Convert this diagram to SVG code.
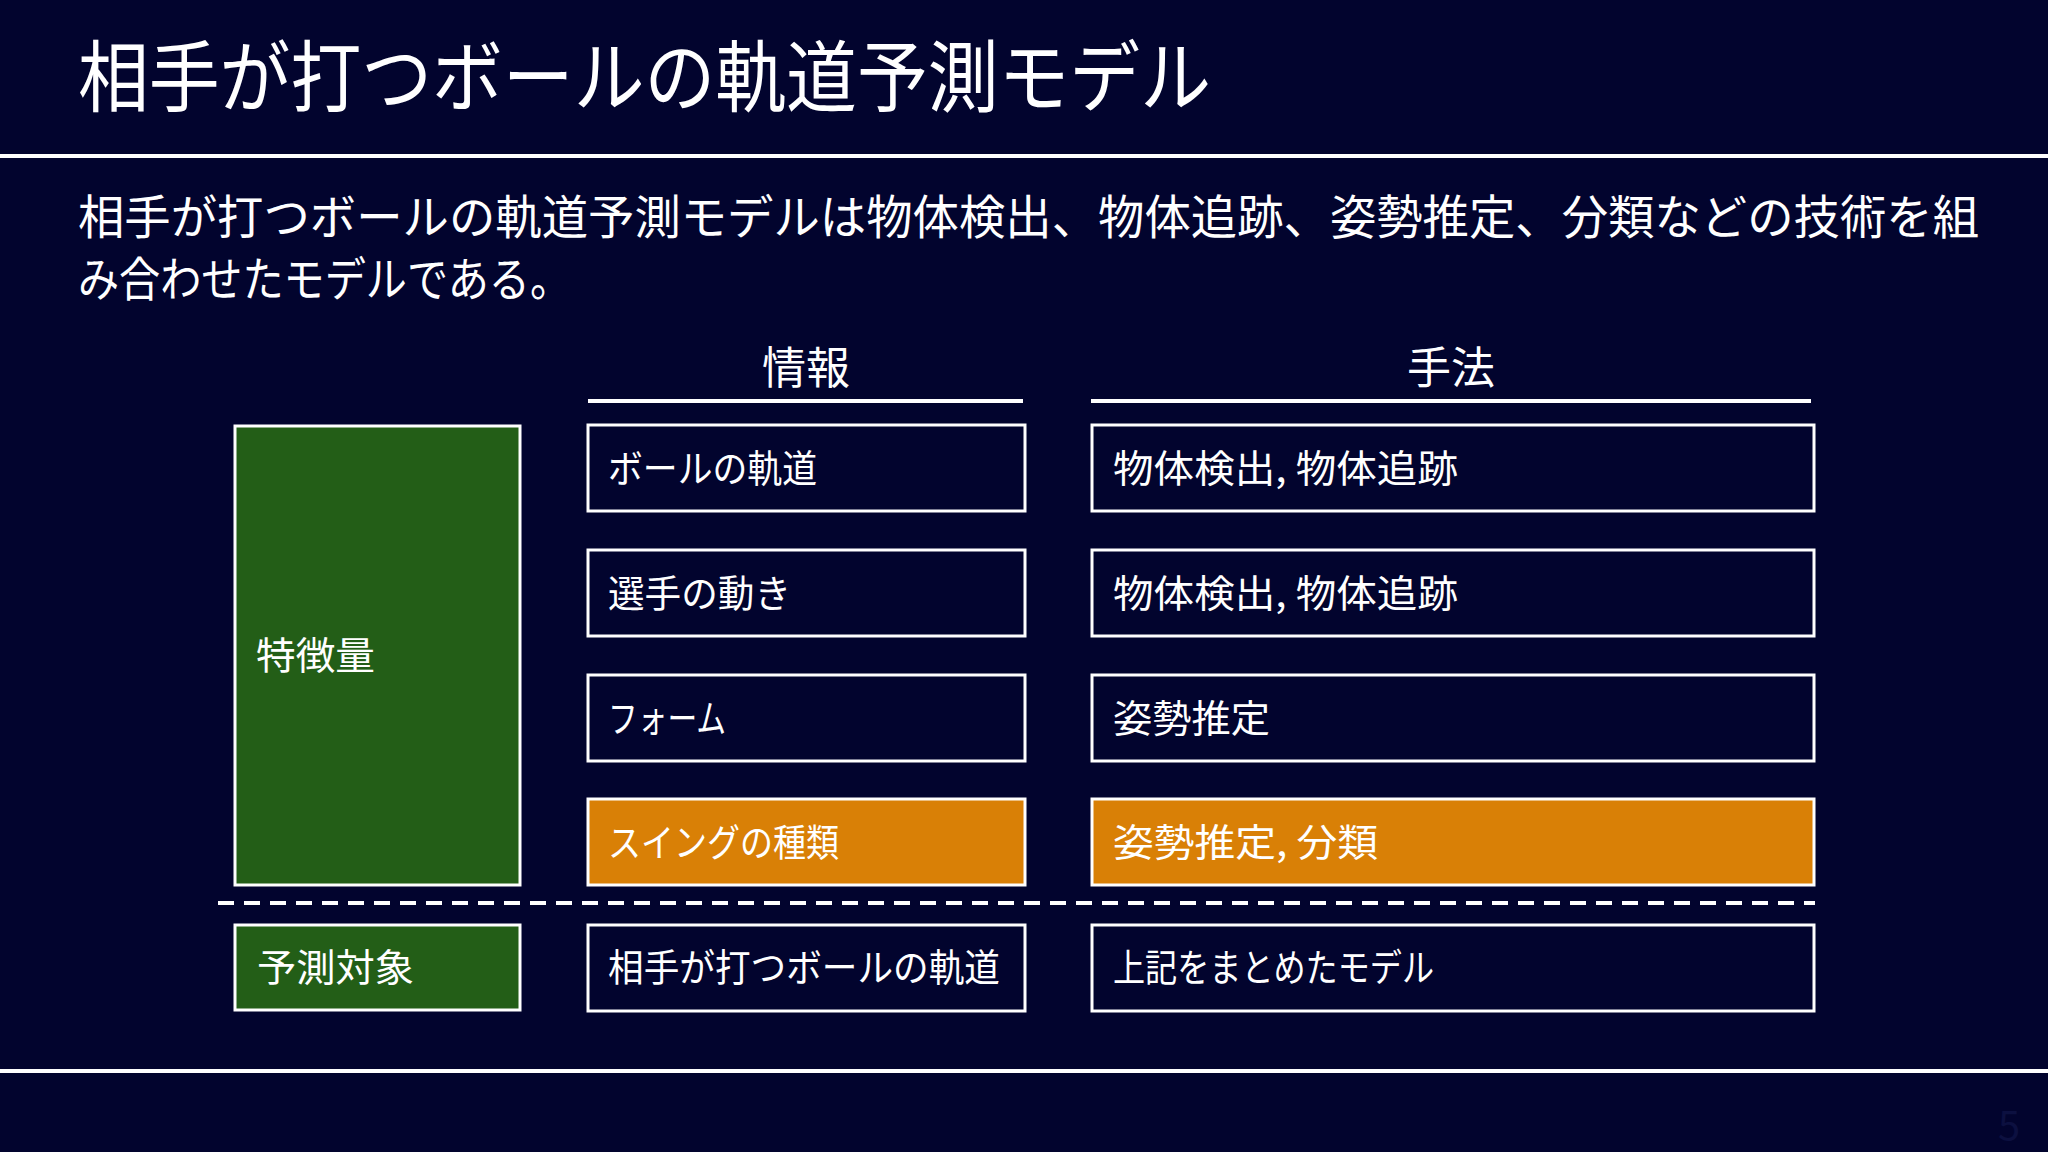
<svg xmlns="http://www.w3.org/2000/svg" width="2048" height="1152" viewBox="0 0 2048 1152">
<style>
text{font-family:"Noto Sans CJK JP","Noto Sans",sans-serif;fill:#fff}
.b{fill:none;stroke:#fff;stroke-width:3}
.o{fill:#D98006;stroke:#fff;stroke-width:3}
.g{fill:#235E17;stroke:#fff;stroke-width:3}
.t{font-size:38px}
.h{font-size:44px}
</style>
<rect width="2048" height="1152" fill="#02042E"/>
<text x="78" y="106" font-size="78" textLength="1133" lengthAdjust="spacingAndGlyphs">相手が打つボールの軌道予測モデル</text>
<line x1="0" y1="156" x2="2048" y2="156" stroke="#fff" stroke-width="4"/>
<text x="78" y="234" font-size="47" textLength="1901" lengthAdjust="spacingAndGlyphs">相手が打つボールの軌道予測モデルは物体検出、物体追跡、姿勢推定、分類などの技術を組</text>
<text x="78" y="296" font-size="47" textLength="493" lengthAdjust="spacingAndGlyphs">み合わせたモデルである。</text>
<g id="headers">
<text class="h" x="806" y="384" text-anchor="middle">情報</text>
<line x1="588" y1="401" x2="1023" y2="401" stroke="#fff" stroke-width="4"/>
<text class="h" x="1451" y="384" text-anchor="middle">手法</text>
<line x1="1091" y1="401" x2="1811" y2="401" stroke="#fff" stroke-width="4"/>
</g>
<g id="feat"><rect class="g" x="235" y="426" width="285" height="459"/><text class="t" x="256" y="669" textLength="119" lengthAdjust="spacingAndGlyphs">特徴量</text></g>
<g id="i1"><rect class="b" x="588" y="425" width="437" height="86"/><text class="t" x="608" y="482" textLength="209" lengthAdjust="spacingAndGlyphs">ボールの軌道</text></g>
<g id="m1"><rect class="b" x="1092" y="425" width="722" height="86"/><text class="t" x="1113" y="482" textLength="345" lengthAdjust="spacingAndGlyphs">物体検出, 物体追跡</text></g>
<g id="i2"><rect class="b" x="588" y="550" width="437" height="86"/><text class="t" x="608" y="607" textLength="183" lengthAdjust="spacingAndGlyphs">選手の動き</text></g>
<g id="m2"><rect class="b" x="1092" y="550" width="722" height="86"/><text class="t" x="1113" y="607" textLength="345" lengthAdjust="spacingAndGlyphs">物体検出, 物体追跡</text></g>
<g id="i3"><rect class="b" x="588" y="675" width="437" height="86"/><text class="t" x="608" y="732" textLength="118" lengthAdjust="spacingAndGlyphs">フォーム</text></g>
<g id="m3"><rect class="b" x="1092" y="675" width="722" height="86"/><text class="t" x="1113" y="732" textLength="157" lengthAdjust="spacingAndGlyphs">姿勢推定</text></g>
<g id="i4"><rect class="o" x="588" y="799" width="437" height="86"/><text class="t" x="608" y="856" textLength="231" lengthAdjust="spacingAndGlyphs">スイングの種類</text></g>
<g id="m4"><rect class="o" x="1092" y="799" width="722" height="86"/><text class="t" x="1113" y="856" textLength="265" lengthAdjust="spacingAndGlyphs">姿勢推定, 分類</text></g>
<g id="connectors"><line x1="218" y1="903" x2="1815" y2="903" stroke="#fff" stroke-width="4" stroke-dasharray="16,10"/></g>
<g id="target"><rect class="g" x="235" y="925" width="285" height="85"/><text class="t" x="257" y="981" textLength="157" lengthAdjust="spacingAndGlyphs">予測対象</text></g>
<g id="i5"><rect class="b" x="588" y="925" width="437" height="86"/><text class="t" x="608" y="981" textLength="392" lengthAdjust="spacingAndGlyphs">相手が打つボールの軌道</text></g>
<g id="m5"><rect class="b" x="1092" y="925" width="722" height="86"/><text class="t" x="1113" y="981" textLength="321" lengthAdjust="spacingAndGlyphs">上記をまとめたモデル</text></g>
<line x1="0" y1="1071" x2="2048" y2="1071" stroke="#fff" stroke-width="4"/>
<text x="1998" y="1140" font-size="40" style="fill:#0c1040">5</text>
</svg>
